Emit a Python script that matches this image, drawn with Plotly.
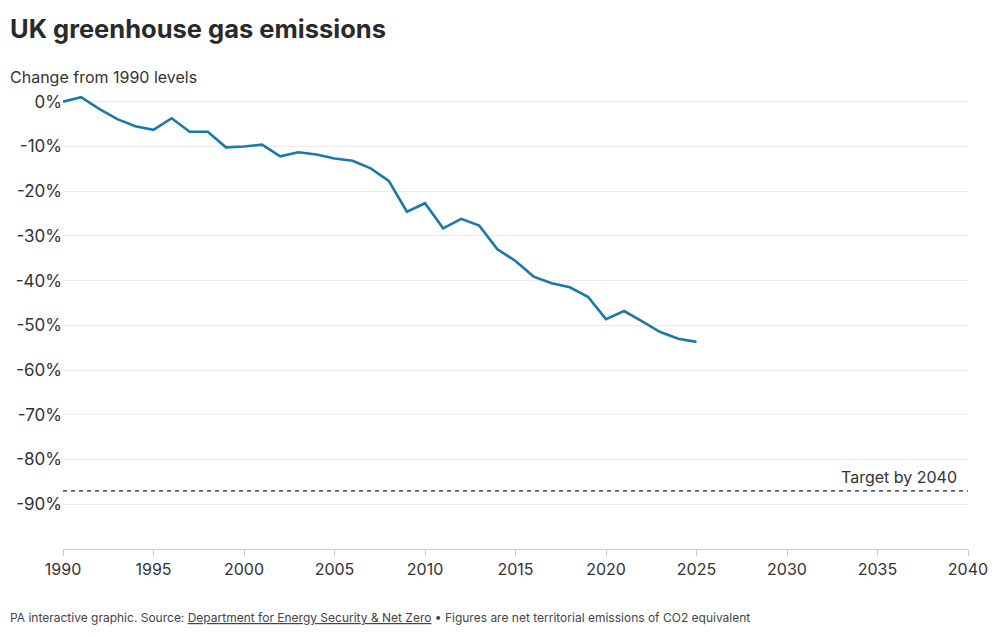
import plotly.graph_objects as go

years = list(range(1990, 2026))
change = [0.0, 1.0, -1.6, -3.9, -5.5, -6.3, -3.7, -6.7, -6.7, -10.2,
          -10.0, -9.6, -12.2, -11.3, -11.8, -12.7, -13.2, -14.9, -17.7, -24.6,
          -22.7, -28.3, -26.2, -27.7, -33.0, -35.6, -39.1, -40.6, -41.5, -43.6,
          -48.6, -46.8, -49.1, -51.5, -53.0, -53.7]
target_years = [1990, 2040]
target_value = [-87, -87]
y_ticks = [0, -10, -20, -30, -40, -50, -60, -70, -80, -90]
y_tick_labels = [f"{v}%" for v in y_ticks]
x_ticks = list(range(1990, 2041, 5))

FONT = "Inter, Roboto, sans-serif"
TXT = "#333333"

L, R, T, B = 63, 32, 95, 88
W, H = 1000, 637
PW, PH = W - L - R, H - T - B


def px_x(x):
    return (x - L) / PW


def px_y(y):
    return (H - B - y) / PH


fig = go.Figure()
fig.add_trace(go.Scatter(x=target_years, y=target_value, mode="lines",
                         line=dict(color="#222222", width=1.3, dash="4px,4px"),
                         hoverinfo="skip", showlegend=False))
fig.add_trace(go.Scatter(x=years, y=change, mode="lines",
                         line=dict(color="#1a7aa5", width=2.6),
                         showlegend=False))

fig.update_layout(
    width=W, height=H,
    margin=dict(l=L, r=R, t=T, b=B),
    paper_bgcolor="white", plot_bgcolor="white",
    font=dict(family=FONT, color=TXT, size=16),
    xaxis=dict(range=[1990, 2040], tickvals=x_ticks, showgrid=False,
               showline=True, linecolor="#cccccc", linewidth=1,
               ticks="outside", ticklen=6, tickcolor="#cccccc",
               tickfont=dict(size=16, color=TXT), zeroline=False, fixedrange=True),
    yaxis=dict(range=[-100, 1.5], tickvals=y_ticks, ticktext=y_tick_labels,
               showgrid=True, gridcolor="#ebebeb", gridwidth=1,
               zeroline=False, showline=False, ticks="",
               tickfont=dict(size=17, color=TXT), fixedrange=True),
    annotations=[
        dict(text="<b>UK greenhouse gas emissions</b>", xref="paper", yref="paper",
             x=px_x(8), y=px_y(28), xanchor="left", yanchor="middle",
             showarrow=False, font=dict(size=25.5, color="#2a2a2a", family=FONT)),
        dict(text="Change from 1990 levels", xref="paper", yref="paper",
             x=px_x(8), y=px_y(77), xanchor="left", yanchor="middle",
             showarrow=False, font=dict(size=16, color=TXT, family=FONT)),
        dict(text="Target by 2040", x=2039.5, y=-87, xref="x", yref="y",
             xanchor="right", yanchor="bottom", yshift=2, showarrow=False,
             font=dict(size=16, color=TXT, family=FONT)),
        dict(text="PA interactive graphic. Source: <u>Department for Energy Security &amp; Net Zero</u> \u2022 Figures are net territorial emissions of CO2 equivalent",
             xref="paper", yref="paper", x=px_x(8), y=px_y(617),
             xanchor="left", yanchor="middle", showarrow=False,
             font=dict(size=12, color="#444444", family=FONT)),
    ],
)

fig.write_html("out.html")
